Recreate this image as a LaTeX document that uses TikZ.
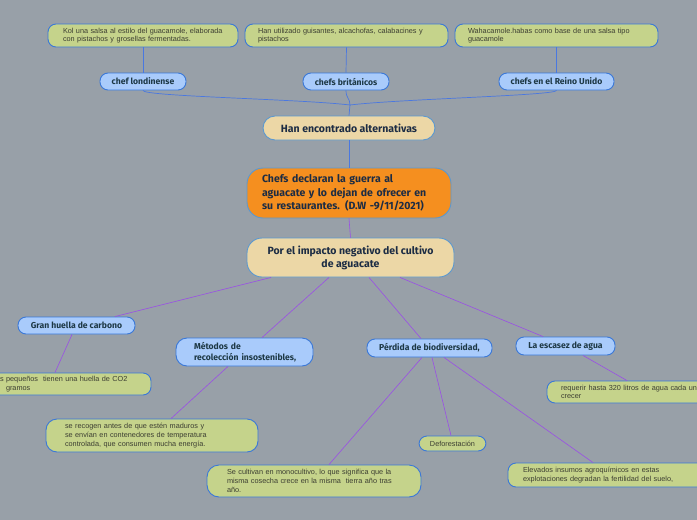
\documentclass[tikz,border=0pt]{standalone}
\usepackage{fontspec}
\setmainfont{Liberation Sans}
\newfontfamily\hfont{Fira Sans}
\definecolor{bg}{HTML}{98A0A8}
\definecolor{gfill}{HTML}{C5D38B}
\definecolor{bfill}{HTML}{A9CBFB}
\definecolor{beige}{HTML}{ECD7A6}
\definecolor{orng}{HTML}{F58F1F}
\definecolor{bord}{HTML}{3A78D8}
\definecolor{bordl}{HTML}{5A98D0}
\definecolor{cblue}{HTML}{4A78E0}
\definecolor{cpurp}{HTML}{9A4FE6}
\definecolor{htext}{HTML}{1C2C44}
\definecolor{btext}{HTML}{1D3845}
\definecolor{gtext}{HTML}{3C3E32}
\begin{document}
\begin{tikzpicture}[x=1pt,y=-1pt,
  box/.style={draw=bord, line width=0.9pt, rounded corners=8pt, inner ysep=0pt},
  gbox/.style={box, fill=gfill, text=gtext, align=left, font=\fontsize{7.3}{8.5}\selectfont},
  bbox/.style={box, fill=bfill, text=btext, inner xsep=0pt, align=center, font=\hfont\bfseries\fontsize{8.6}{10.6}\selectfont},
  hbox/.style={draw=bordl, line width=0.9pt, rounded corners=12pt, inner ysep=0pt, text=htext, font=\hfont\bfseries\fontsize{10.5}{13.5}\selectfont},
  topc/.style={draw=cblue, line width=0.7pt},
  botc/.style={draw=cpurp, line width=0.6pt}]
\useasboundingbox[fill=bg] (0,0) rectangle (697,520);

% top row
\node[gbox, minimum width=190pt, minimum height=23pt, inner xsep=15pt, text width=160pt] (kol) at (143,35.5)
  {Kol una salsa al estilo del guacamole, elaborada\\con pistachos y grosellas fermentadas.};
\node[gbox, minimum width=203pt, minimum height=23pt, inner xsep=13pt, text width=177pt] (han) at (346.5,35.5)
  {Han utilizado guisantes, alcachofas, calabacines y\\pistachos};
\node[gbox, minimum width=203pt, minimum height=23pt, inner xsep=13pt, text width=177pt] (wah) at (556.5,35.5)
  {Wahacamole.habas como base de una salsa tipo\\guacamole};

\node[bbox, minimum width=86pt, minimum height=17pt] (lond) at (143,81.5) {chef londinense};
\node[bbox, minimum width=86pt, minimum height=17pt] (brit) at (346,81.5) {chefs británicos};
\node[bbox, minimum width=115pt, minimum height=17pt] (reino) at (556.5,81.5) {chefs en el Reino Unido};

\node[hbox, fill=beige, minimum width=172pt, minimum height=24pt, inner xsep=0pt] (alt) at (349,128) {Han encontrado alternativas};
\node[hbox, fill=orng, rounded corners=16pt, minimum width=204pt, minimum height=50pt, inner xsep=15pt, text width=174pt, align=left] (chefs) at (349,193)
  {Chefs declaran la guerra al\\aguacate y lo dejan de ofrecer en\\su restaurantes. (D.W -9/11/2021)};
\node[hbox, fill=beige, rounded corners=15pt, minimum width=207pt, minimum height=39pt, inner xsep=0pt, align=center, font=\hfont\bfseries\fontsize{10.5}{13}\selectfont] (imp) at (350.5,257.5)
  {Por el impacto negativo del cultivo\\de aguacate};

% level 2
\node[bbox, minimum width=117pt, minimum height=17pt] (huella) at (76.5,325.5) {Gran huella de carbono};
\node[bbox, rounded corners=11pt, minimum width=137pt, minimum height=28pt, inner xsep=18pt, text width=101pt, align=left] (met) at (244.5,352)
  {\mbox{Métodos de}\\\mbox{recolección insostenibles,}};
\node[bbox, minimum width=125pt, minimum height=18pt] (perd) at (429.5,348) {Pérdida de biodiversidad,};
\node[bbox, minimum width=99pt, minimum height=18pt] (esc) at (565.5,346) {La escasez de agua};

% level 3
\node[gbox, minimum width=171pt, minimum height=22pt, inner xsep=20pt, text width=131pt] (co2) at (65.5,384)
  {s pequeños\ \ tienen una huella de CO2\\\hspace*{6pt}gramos};
\node[gbox, rounded corners=11pt, minimum width=212pt, minimum height=33pt, inner xsep=19pt, text width=174pt, font=\fontsize{7.3}{8.7}\selectfont] (rec) at (152,435.5)
  {se recogen antes de que estén maduros y\\se envían en contenedores de temperatura\\controlada, que consumen mucha energía.};
\node[gbox, minimum width=173pt, minimum height=22pt, inner xsep=14pt, text width=145pt] (agua) at (633.5,392)
  {\mbox{requerir hasta 320 litros de agua cada un}\\crecer};
\node[gbox, minimum width=67pt, minimum height=15pt, inner xsep=0pt, align=center] (defo) at (452.5,443.5) {Deforestación};
\node[gbox, rounded corners=12pt, minimum width=214pt, minimum height=32pt, inner xsep=20pt, text width=174pt, font=\fontsize{7.3}{8.8}\selectfont] (mono) at (314,481)
  {Se cultivan en monocultivo, lo que significa que la\\misma cosecha crece en la misma\ \ tierra año tras\\año.};
\node[gbox, minimum width=212pt, minimum height=24pt, inner xsep=15pt, text width=182pt] (elev) at (614,475)
  {Elevados insumos agroquímicos en estas\\explotaciones degradan la fertilidad del suelo,};

% connectors top
\coordinate (j) at (350,105);
\draw[topc] (kol.south) -- (lond.north);
\draw[topc] (han.south) -- (brit.north);
\draw[topc] (wah.south) -- (reino.north);
\draw[topc] (lond.south) .. controls +(0,6) and (300,99) .. (j);
\draw[topc] (brit.south) .. controls +(0,8) and (350,98) .. (j);
\draw[topc] (reino.south) .. controls +(0,5) and (400,99) .. (j);
\draw[topc] (j) -- (alt.north);
\draw[topc] (alt.south) -- (chefs.north);

% connectors bottom
\draw[botc] (chefs.south) -- (imp.north);
\draw[botc] ([xshift=-79.5pt]imp.south) -- ([xshift=38.5pt]huella.north);
\draw[botc] ([xshift=-21.5pt]imp.south) -- ([xshift=17.5pt]met.north);
\draw[botc] ([xshift=18.5pt]imp.south) -- ([xshift=-8.5pt]perd.north);
\draw[botc] ([xshift=49.5pt]imp.south) -- ([xshift=-22.5pt]esc.north);
\draw[botc] ([xshift=-4.5pt]huella.south) -- ([xshift=-10.5pt]co2.north);
\draw[botc] ([xshift=-16.5pt]met.south) -- ([xshift=19pt]rec.north);
\draw[botc] ([xshift=17.5pt]esc.south) -- ([xshift=-6.5pt]agua.north);
\draw[botc] ([xshift=2.5pt]perd.south) -- ([xshift=-1.5pt]defo.north);
\draw[botc] ([xshift=-7.5pt]perd.south) -- ([xshift=15pt]mono.north);
\draw[botc] ([xshift=14.5pt]perd.south) -- ([xshift=-21pt]elev.north);
\end{tikzpicture}
\end{document}
